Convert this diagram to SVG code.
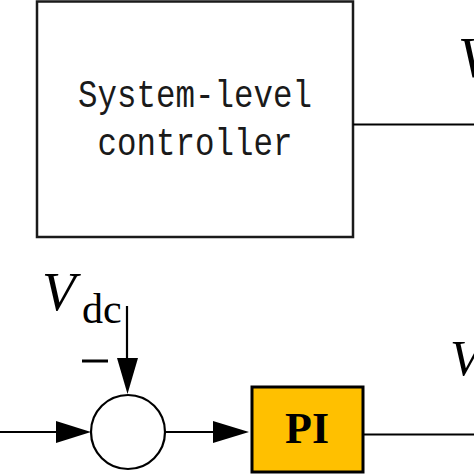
<svg xmlns="http://www.w3.org/2000/svg" width="474" height="474" viewBox="0 0 474 474">
<style>
.ln{stroke:#000;stroke-width:2.2;fill:none}
.ah{fill:#000}
.mono{font-family:"Liberation Mono","DejaVu Sans Mono",monospace;font-size:32.5px;fill:#1a1a1a}
.it{font-family:"Liberation Serif","Times New Roman",serif;font-style:italic;fill:#000}
.sr{font-family:"Liberation Serif","Times New Roman",serif;fill:#000}
</style>
<rect width="474" height="474" fill="#fff"/>
<g id="system-controller">
<rect x="37" y="1.5" width="316" height="235.5" fill="#fff" stroke="#1a1a1a" stroke-width="2.5"/>
<text class="mono" x="195" y="107" text-anchor="middle" transform="translate(0,-18) scale(1,1.17)">System-level</text>
<text class="mono" x="195" y="155" text-anchor="middle" transform="translate(0,-26.5) scale(1,1.17)">controller</text>
</g>
<g id="sum">
<circle cx="128" cy="432" r="37" fill="#fff" stroke="#000" stroke-width="2.2"/>
</g>
<g id="pi">
<rect x="252" y="387" width="111" height="85" fill="#FFC000" stroke="#000" stroke-width="3"/>
<text class="sr" x="307" y="443" text-anchor="middle" font-weight="bold" font-size="44">PI</text>
</g>
<g id="labels">
<text class="it" x="458" y="77" font-size="56">V</text>
<text class="it" x="42" y="310" font-size="55">V</text>
<text class="sr" x="82" y="323" font-size="42">dc</text>
<line x1="82" y1="361" x2="108" y2="361" stroke="#000" stroke-width="3"/>
<text class="it" x="450" y="375" font-size="50">V</text>
</g>
<g id="connectors">
<line class="ln" x1="353" y1="124.5" x2="474" y2="124.5"/>
<line class="ln" x1="0" y1="432" x2="60" y2="432"/>
<polygon class="ah" points="56,421 91,432 56,443"/>
<line class="ln" x1="165" y1="432" x2="215" y2="432"/>
<polygon class="ah" points="213,421 249,432 213,443"/>
<line class="ln" x1="127" y1="306" x2="127" y2="360"/>
<polygon class="ah" points="117,358 138,358 127.5,394"/>
<line class="ln" x1="363" y1="434.5" x2="474" y2="434.5"/>
</g>
</svg>
